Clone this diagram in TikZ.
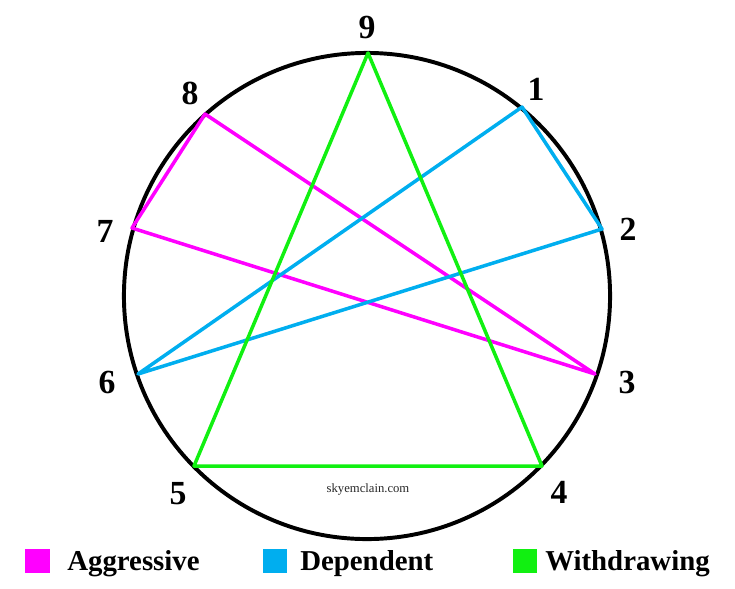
\documentclass[tikz,border=0pt]{standalone}
\usepackage{fontspec}
\setmainfont{Liberation Serif}
\definecolor{aggr}{HTML}{FF00FF}
\definecolor{depd}{HTML}{00AEEF}
\definecolor{withd}{HTML}{11F011}
\tikzset{
  digit/.style={font=\fontsize{24}{24}\selectfont\bfseries},
  legtext/.style={font=\fontsize{20.5}{20.5}\selectfont\bfseries, anchor=base west, inner sep=0pt},
  legbox/.style={minimum size=0.6cm, inner sep=0pt},
  tri/.style={line width=2.5pt, line join=round}
}
\begin{document}
\begin{tikzpicture}[x=0.025cm, y=-0.025cm]
        \useasboundingbox (0,0) rectangle (735,588);
        % Circle
        \draw[line width=2.8pt] (367,296) circle [radius=6.075cm];

        % Points
        \coordinate (p9) at (368,53);
        \coordinate (p1) at (522,107);
        \coordinate (p2) at (602,229);
        \coordinate (p3) at (595,374);
        \coordinate (p4) at (542,466);
        \coordinate (p5) at (194,466);
        \coordinate (p6) at (138,374);
        \coordinate (p7) at (132,228);
        \coordinate (p8) at (205,114);

        % Lines
        \draw[tri, aggr] (p8) -- (p7) -- (p3) -- cycle;
        \draw[tri, depd] (p1) -- (p2) -- (p6) -- cycle;
        \draw[tri, withd] (p9) -- (p4) -- (p5) -- cycle;

        % Nodes
        \node at (367,27) [digit] (l9) {9};
        \node at (536,89) [digit] (l1) {1};
        \node at (628,229) [digit] (l2) {2};
        \node at (627,382) [digit] (l3) {3};
        \node at (559,492) [digit] (l4) {4};
        \node at (178,494) [digit] (l5) {5};
        \node at (107,382) [digit] (l6) {6};
        \node at (105,231) [digit] (l7) {7};
        \node at (190,93) [digit] (l8) {8};
        \node at (368,489) [font=\fontsize{9}{9}\selectfont, text=black!85] (site) {skyemclain.com};

        % Legend
        \node at (37.5,561) [legbox, fill=aggr] (kaggr) {};
        \node at (67,570) [legtext] (taggr) {Aggressive};
        \node at (275,561) [legbox, fill=depd] (kdepd) {};
        \node at (300,570) [legtext] (tdepd) {Dependent};
        \node at (524.5,561) [legbox, fill=withd] (kwithd) {};
        \node at (545,570) [legtext] (twithd) {Withdrawing};
\end{tikzpicture}
\end{document}
